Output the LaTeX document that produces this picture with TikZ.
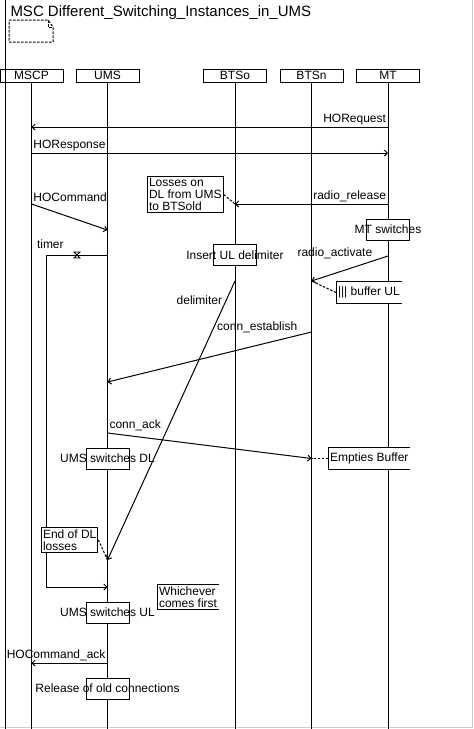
\documentclass[tikz,border=0pt]{standalone}
\usepackage{fontspec}
\setmainfont{Liberation Sans}
\usetikzlibrary{arrows.meta}

\begin{document}
\begin{tikzpicture}[x=1pt,y=-1pt,line width=1pt,
  font=\fontsize{12}{12}\selectfont,
  head/.style={draw,minimum width=63pt,minimum height=13pt,inner sep=0pt},
  msg/.style={-{Straight Barb[length=3pt,width=6pt]}},
  lbl/.style={inner sep=1.5pt},
  actbox/.style={draw,fill=white,minimum width=43pt,minimum height=21pt,inner sep=0pt},
  notebox/.style={draw,fill=white,align=left,inner xsep=1.5pt,inner ysep=2pt,font=\fontsize{12}{11.8}\selectfont},
  cmtbox/.style={fill=white,align=left,inner xsep=1.5pt,inner ysep=2pt,font=\fontsize{12}{12}\selectfont},
  hint/.style={dash pattern=on 2.5pt off 1.5pt,line width=1pt}]
\useasboundingbox (0,0) rectangle (474,729);
\draw[gray!40] (472.5,0) -- (472.5,727.5) -- (0,727.5);
\draw (5,0) -- (5,729);
\node[anchor=base west,inner sep=0pt,font=\fontsize{15}{15}\selectfont] (title) at (10,16) {MSC Different\_Switching\_Instances\_in\_UMS};
\draw[hint] (9,20) -- (48,20) -- (53,27) -- (53,42) -- (9,42) -- cycle;
\draw[hint] (48,20) -- (48,27) -- (53,27);

% instances and lifelines
\coordinate (bottom) at (0,729);
\foreach \n/\t/\x in {mscp/MSCP/31.5,ums/UMS/107.5,btso/BTSo/235,btsn/BTSn/311.5,mt/MT/388}
  \node[head] (\n) at (\x,75.5) {\t};
\foreach \n in {mscp,ums,btso,btsn,mt}
  \draw (\n.south) -- (\n.south |- bottom);

% messages
\coordinate (req-s) at (mt |- 0,127);
\coordinate (req-e) at (mscp |- 0,127);
\draw[msg] (req-s) -- (req-e) node[lbl,pos=0,anchor=south east] {HORequest};
\coordinate (rsp-s) at (mscp |- 0,153);
\coordinate (rsp-e) at (mt |- 0,153);
\draw[msg] (rsp-s) -- (rsp-e) node[lbl,pos=0,anchor=south west] {HOResponse};
\coordinate (rel-s) at (mt |- 0,204);
\coordinate (rel-e) at (btso |- 0,204);
\draw[msg] (rel-s) -- (rel-e) node[lbl,pos=0,anchor=south east] {radio\_release};
\coordinate (cmd-s) at (mscp |- 0,204);
\coordinate (cmd-e) at (ums |- 0,230);
\draw[msg] (cmd-s) -- (cmd-e) node[lbl,pos=0,anchor=south west] {HOCommand};

% timer
\coordinate (tmr-s) at (ums |- 0,255);
\coordinate (tmr-a) at (46,255);
\coordinate (tmr-b) at (46,587);
\coordinate (tmr-e) at (ums |- 0,587);
\coordinate (tmr-x) at (77,255);
\draw[msg] (tmr-s) -- (tmr-a) -- (tmr-b) -- (tmr-e);
\draw[line width=0.8pt] ([shift={(-3,-3)}]tmr-x) -- ++(6,0) -- ++(-6,6) -- ++(6,0) -- cycle;
\node[lbl,anchor=base west] (tmrlbl) at (35,248) {timer};

\coordinate (act-s) at (mt |- 0,256);
\coordinate (act-e) at (btsn |- 0,281);
\draw[msg] (act-s) -- (act-e) node[lbl,pos=0.18,anchor=south east] {radio\_activate};
\coordinate (dlm-s) at (btso |- 0,281);
\coordinate (dlm-e) at (ums |- 0,560);
\draw[msg] (dlm-s) -- (dlm-e) node[pos=0.07,anchor=east,inner sep=3.5pt] {delimiter};
\coordinate (est-s) at (btsn |- 0,332);
\coordinate (est-e) at (ums |- 0,382);
\draw[msg] (est-s) -- (est-e) node[lbl,pos=0.06,anchor=south east] {conn\_establish};
\coordinate (ack-s) at (ums |- 0,433);
\coordinate (ack-e) at (btsn |- 0,458.5);
\draw[msg] (ack-s) -- (ack-e) node[lbl,pos=0,anchor=south west] {conn\_ack};
\coordinate (cak-s) at (ums |- 0,663);
\coordinate (cak-e) at (mscp |- 0,663);
\draw[msg] (cak-s) -- (cak-e) node[lbl,pos=0,anchor=south east] {HOCommand\_ack};

% notes
\node[notebox,anchor=north west] (losses) at (147,176) {Losses on\\DL from UMS\\to BTSold};
\draw[hint] (losses.east) -- (rel-e);
\node[notebox,anchor=north west] (enddl) at (41,527) {End of DL\\losses};
\draw[hint] (enddl.east) -- (dlm-e);

% comments
\node[cmtbox,anchor=west,minimum height=21pt] (buf) at (336,292.5) {||| buffer UL};
\draw (buf.north east) -- (buf.north west) -- (buf.south west) -- (buf.south east);
\draw[hint] (buf.west) -- (act-e);
\node[cmtbox,anchor=west,minimum height=21pt] (emp) at (328,458.5) {Empties Buffer};
\draw (emp.north east) -- (emp.north west) -- (emp.south west) -- (emp.south east);
\draw[hint] (emp.west) -- (ack-e);
\node[cmtbox,anchor=north west] (first) at (157,584) {Whichever\\comes first};
\draw (first.north east) -- (first.north west) -- (first.south west) -- (first.south east);

% actions
\node[actbox] (mtsw) at (mt |- 0,229.5) {};
\node at (mtsw) {MT switches};
\node[actbox] (ins) at (btso |- 0,255) {};
\node at (ins) {Insert UL delimiter};
\node[actbox] (dlsw) at (ums |- 0,458.5) {};
\node at (dlsw) {UMS switches DL};
\node[actbox] (ulsw) at (ums |- 0,612.5) {};
\node at (ulsw) {UMS switches UL};
\node[actbox] (relold) at (ums |- 0,688.5) {};
\node at (relold) {Release of old connections};
\end{tikzpicture}
\end{document}
